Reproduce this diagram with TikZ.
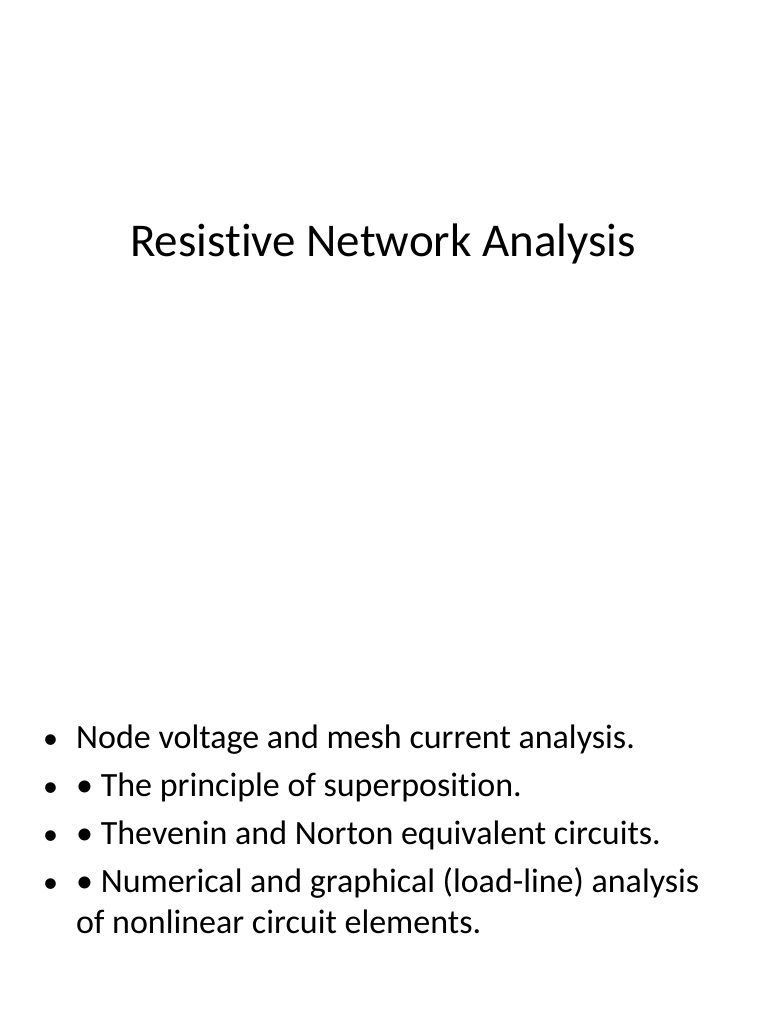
\documentclass[tikz,border=0pt]{standalone}
\usepackage{fontspec}
\setmainfont{Carlito}[RawFeature=-liga]
\begin{document}
\begin{tikzpicture}[x=1pt,y=-1pt,
  txt/.style={anchor=base west,inner sep=0pt,font=\fontsize{34}{40}\selectfont},
  bul/.style={anchor=base west,inner sep=0pt,font=\fontsize{30}{36}\selectfont}]
\fill[white] (0,0) rectangle (768,1024);
\node[anchor=base,inner sep=0pt,font=\fontsize{47}{56}\selectfont] (title) at (383,256) {Resistive Network Analysis};
\node[bul] (b1) at (43,748) {•};
\node[txt] (t1) at (76,748) {Node voltage and mesh current analysis.};
\node[bul] (b2) at (43,796) {•};
\node[txt] (t2) at (76,796) {• The principle of superposition.};
\node[bul] (b3) at (43,844) {•};
\node[txt] (t3) at (76,844) {• Thevenin and Norton equivalent circuits.};
\node[bul] (b4) at (43,892) {•};
\node[txt] (t4) at (76,892) {• Numerical and graphical (load-line) analysis};
\node[txt] (t5) at (76,933) {of nonlinear circuit elements.};
\end{tikzpicture}
\end{document}
